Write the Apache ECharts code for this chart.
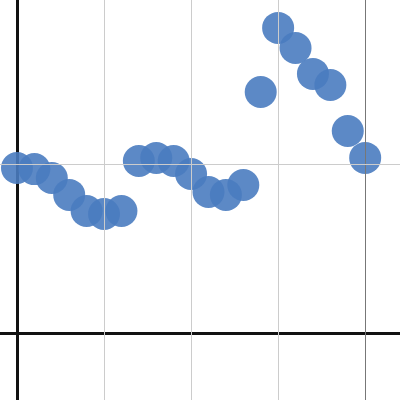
<!DOCTYPE html>
<html>
<head>
<script src="https://cdn.jsdelivr.net/npm/echarts@6/dist/echarts.min.js"></script>
<style>html,body{margin:0;background:#fff}#c{width:400px;height:400px}</style>
</head>
<body>
<div id="c"></div>
<script>
var xs = [0, 0.2, 0.4, 0.6, 0.8, 1, 1.2, 1.4, 1.6, 1.8, 2, 2.2, 2.4, 2.6, 2.8, 3, 3.2, 3.4, 3.6, 3.8, 4];
var ys = [0.976, 0.97, 0.917, 0.817, 0.722, 0.704, 0.722, 1.018, 1.036, 1.018, 0.941, 0.834, 0.817, 0.876, 1.426, 1.805, 1.686, 1.533, 1.467, 1.195, 1.036];
var xGrid = [1, 2, 3, 4];
var yGrid = [1];

var pts = xs.map(function (x, i) { return [x, ys[i]]; });
var gridLines = xGrid.map(function (v) {
  return {xAxis: v, lineStyle: {color: v === 4 ? '#777' : '#ccc'}};
}).concat(yGrid.map(function (v) { return {yAxis: v}; }));

echarts.init(document.getElementById('c')).setOption({
  animation: false,
  grid: {left: 0, right: 0, top: 0, bottom: 0},
  xAxis: {
    type: 'value', min: -0.195, max: 4.4,
    splitLine: {show: false}, axisTick: {show: false}, axisLabel: {show: false},
    axisLine: {onZero: true, lineStyle: {color: '#111', width: 3}}
  },
  yAxis: {
    type: 'value', min: -0.396, max: 1.97,
    splitLine: {show: false}, axisTick: {show: false}, axisLabel: {show: false},
    axisLine: {onZero: true, lineStyle: {color: '#111', width: 3}}
  },
  series: [{
    type: 'scatter',
    data: pts,
    symbolSize: 32,
    itemStyle: {color: '#4a7cc0', opacity: 0.9},
    markLine: {
      silent: true, symbol: 'none', label: {show: false},
      lineStyle: {color: '#ccc', width: 1, type: 'solid'},
      data: gridLines
    },
    z: 3
  }]
});
</script>
</body>
</html>
